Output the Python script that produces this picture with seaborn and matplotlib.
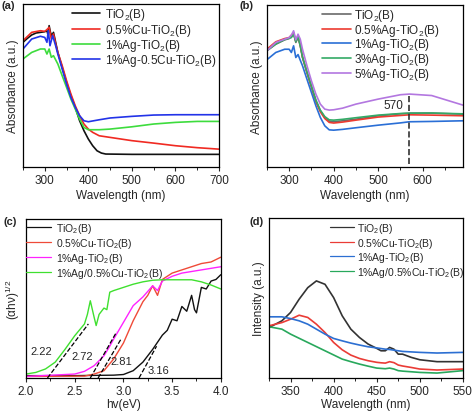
import pandas as pd
import matplotlib.pyplot as plt
import seaborn as sns

sns.set_style("ticks")
plt.rcParams['font.family'] = ['Liberation Sans', 'DejaVu Sans']
plt.rcParams['mathtext.fontset'] = 'custom'
plt.rcParams['mathtext.rm'] = 'Liberation Sans'
plt.rcParams['mathtext.it'] = 'Liberation Sans:italic'
plt.rcParams['mathtext.default'] = 'regular'

# ---- (a) UV-vis, Cu / Ag co-doped ----
wl_a_k = [250, 260, 270, 280, 290, 300, 305, 308, 310, 313, 316, 320, 325, 330, 340, 350, 360, 370, 380, 390, 400, 410, 420, 430, 440, 500, 600, 700]
abs_a_k = [76.5, 78.9, 81, 82.2, 82.6, 83, 83.6, 80.6, 86.7, 82.6, 80.6, 82.6, 76.5, 70.3, 61.1, 51.9, 43.8, 36.6, 28.4, 22.3, 17.2, 13.1, 10, 8.6, 8, 7.8, 7.8, 7.8]
wl_a_r = [250, 270, 290, 300, 305, 310, 315, 320, 325, 330, 340, 350, 360, 370, 380, 390, 400, 410, 425, 450, 500, 550, 600, 650, 700]
abs_a_r = [77.5, 82.6, 83.6, 83.2, 84.3, 85.7, 78.5, 81.6, 75.5, 70.3, 62.2, 53, 44.8, 37.6, 31.5, 26.4, 23.3, 21.3, 19.2, 18.2, 16.2, 14.7, 13.1, 11.9, 11]
wl_a_g = [250, 270, 290, 300, 305, 310, 315, 320, 330, 340, 350, 360, 370, 380, 390, 400, 425, 450, 500, 550, 600, 650, 700]
abs_a_g = [66.3, 70.3, 72.4, 72.4, 69.3, 72.4, 67.3, 68.3, 63.2, 56, 48.9, 41.7, 35.6, 29.4, 24.3, 22.9, 22.9, 23.3, 24.7, 26.4, 27.4, 28, 28]
wl_a_b = [250, 270, 290, 300, 305, 308, 312, 318, 325, 330, 340, 350, 360, 370, 380, 390, 400, 425, 450, 500, 550, 600, 700]
abs_a_b = [72.4, 78.5, 80.2, 79.5, 76.5, 83.6, 74.4, 80.6, 74.4, 69.3, 60.1, 50.9, 42.7, 36.6, 31.5, 28.4, 27.8, 29, 30.1, 31.1, 31.9, 32.1, 32.1]
labels_a = ['TiO$_2$(B)', '0.5%Cu-TiO$_2$(B)', '1%Ag-TiO$_2$(B)', '1%Ag-0.5Cu-TiO$_2$(B)']
colors_a = ['#111111', '#f02a22', '#3ddc3d', '#2233e8']

# ---- (b) UV-vis, Ag loading ----
wl_b_1 = [250, 270, 290, 300, 305, 310, 315, 320, 325, 330, 340, 350, 360, 370, 380, 390, 400, 420, 450, 500, 550, 570, 620, 690]
abs_b_k = [71.8, 75.9, 78.6, 79.4, 80.7, 83.1, 77, 80, 74.9, 67.7, 58.4, 49.8, 40.9, 34.8, 30.7, 28.4, 28, 28.6, 29.6, 31.7, 32.9, 33.3, 33.3, 32.7]
abs_b_r = [72.8, 77.4, 79.4, 80, 81.5, 82.5, 78, 81, 75.5, 68, 58.5, 49.5, 40.5, 34.2, 30, 27.6, 27.2, 27.8, 29, 30.9, 31.9, 32.3, 32.1, 31.7]
abs_b_b = [66.3, 70.8, 72.8, 72.8, 70.8, 74.9, 67.7, 69.5, 66, 62.6, 54.3, 46.1, 37.9, 30.7, 25.5, 23, 22.8, 23.3, 24.3, 25.9, 27.3, 28, 28.2, 28.6]
abs_b_g = [72, 76, 78.8, 79.6, 80, 82, 77.5, 80.5, 75, 68, 58.8, 50.2, 41.5, 35.2, 31.2, 29.2, 29, 29.5, 30.5, 32.1, 33.1, 33.3, 33.4, 32.9]
abs_b_p = [71.8, 77, 79, 80, 81.5, 84.2, 78.6, 82.1, 79, 72.8, 62.6, 53.3, 45.1, 38.9, 35.8, 35.2, 35.4, 36.4, 38.9, 42, 44.7, 45.1, 44.2, 38.3]
labels_b = ['TiO$_2$(B)', '0.5%Ag-TiO$_2$(B)', '1%Ag-TiO$_2$(B)', '3%Ag-TiO$_2$(B)', '5%Ag-TiO$_2$(B)']
colors_b = ['#6a6a6a', '#ec3b30', '#2a6fd6', '#33aa66', '#b377e0']
peak_b = 570

# ---- (c) Tauc plot ----
ev_c_k = [2.0, 2.5, 2.9, 3.0, 3.1, 3.2, 3.3, 3.4, 3.45, 3.5, 3.55, 3.6, 3.65, 3.7, 3.73, 3.75, 3.8, 3.85, 3.9, 3.95, 4.0]
tauc_k = [1.5, 1.5, 1.8, 2.2, 4.6, 10, 18, 27, 30, 37, 36, 45, 42, 52, 43, 41, 57, 56, 61, 62, 65]
ev_c_r = [2.0, 2.6, 2.7, 2.8, 2.9, 3.0, 3.1, 3.2, 3.25, 3.3, 3.35, 3.4, 3.5, 3.6, 3.7, 3.8, 3.9, 4.0]
tauc_r = [1, 1.2, 2.5, 4.6, 12, 22, 36, 48, 52, 58, 52, 62, 66, 68, 70, 72, 73, 76]
ev_c_m = [2.0, 2.5, 2.6, 2.7, 2.8, 2.85, 2.9, 3.0, 3.1, 3.2, 3.3, 3.35, 3.4, 3.5, 3.6, 3.7, 3.8, 3.9, 4.0]
tauc_m = [1, 2.5, 4.2, 7.8, 14, 19, 24.5, 35, 45.5, 51, 58, 55, 61, 64, 66, 67, 68, 69, 70]
ev_c_g = [2.0, 2.1, 2.2, 2.3, 2.4, 2.5, 2.6, 2.63, 2.66, 2.7, 2.72, 2.75, 2.8, 2.83, 2.86, 2.9, 3.0, 3.1, 3.2, 3.3, 3.4, 3.5, 3.6, 3.7, 3.8, 3.9, 4.0]
tauc_g = [2.5, 3.5, 5.7, 10, 18, 26.6, 34, 40, 48.6, 38, 33, 40, 44, 43, 54, 55, 57, 59, 60.5, 61.5, 61.8, 61.8, 61.8, 61.8, 60.5, 58.5, 56]
labels_c = ['TiO$_2$(B)', '0.5%Cu-TiO$_2$(B)', '1%Ag-TiO$_2$(B)', '1%Ag/0.5%Cu-TiO$_2$(B)']
colors_c = ['#111111', '#ef4a38', '#ff22ff', '#3fe02f']
# tangent lines (start at x intercept, end point) and band gap labels
tan_x0 = [2.22, 2.66, 2.74, 3.16]
tan_x1 = [2.64, 2.93, 2.98, 3.34]
tan_y1 = [34, 29, 25, 20]
gap_text = ['2.22', '2.72', '2.81', '3.16']
gap_tx = [2.16, 2.58, 2.98, 3.36]
gap_ty = [17, 14, 11, 5]

# ---- (d) PL spectra ----
wl_d = [325, 340, 350, 360, 370, 380, 390, 400, 410, 420, 430, 440, 450, 455, 460, 465, 470, 475, 480, 490, 500, 520, 550]
pl_k = [31.5, 35.7, 40.9, 49.2, 56.4, 60.6, 58.5, 50.2, 38.8, 30.5, 25.3, 21.2, 18.5, 17, 17, 19.1, 18, 14.9, 14.9, 12.9, 11.4, 10.2, 10.2]
pl_r = [32.6, 34.6, 36.7, 39.2, 37.8, 33.6, 28.4, 22.2, 17.6, 14.3, 12.2, 10.8, 9.8, 9.5, 9.3, 10.2, 9.6, 8.1, 7.5, 6.6, 5.6, 5.0, 5.6]
pl_b = [38.2, 38.2, 37.1, 35.7, 33.6, 30.5, 27.4, 24.7, 23.2, 21.8, 20.6, 19.5, 18.8, 18.4, 18, 17.8, 17.4, 17, 16.6, 16.3, 16, 15.6, 16]
pl_g = [32, 30.5, 27.4, 24.8, 22.2, 19.6, 17, 14.4, 11.8, 10.2, 8.7, 7.4, 6.2, 6, 5.8, 6.2, 5.6, 4.6, 4.3, 3.9, 3.5, 3.1, 4.6]
labels_d = ['TiO$_2$(B)', '0.5%Cu-TiO$_2$(B)', '1%Ag-TiO$_2$(B)', '1%Ag/0.5%Cu-TiO$_2$(B)']
colors_d = ['#333333', '#ea3c36', '#2c6fd2', '#28a85c']


def long_df(xs, ys, labels):
    parts = []
    for x, y, lab in zip(xs, ys, labels):
        parts.append(pd.DataFrame({'x': x, 'y': y, 'sample': lab}))
    return pd.concat(parts, ignore_index=True)


def draw(ax, df, labels, colors, lw=1.2):
    sns.lineplot(data=df, x='x', y='y', hue='sample', hue_order=labels,
                 palette=colors, sort=False, estimator=None, lw=lw, ax=ax)


fig = plt.figure(figsize=(4.74, 4.14), dpi=100)
ax_a = fig.add_axes([0.0485, 0.594, 0.4135, 0.394])
ax_b = fig.add_axes([0.563, 0.594, 0.4135, 0.391])
ax_c = fig.add_axes([0.0549, 0.0845, 0.411, 0.384])
ax_d = fig.add_axes([0.5675, 0.0845, 0.409, 0.387])

draw(ax_a, long_df([wl_a_k, wl_a_r, wl_a_g, wl_a_b], [abs_a_k, abs_a_r, abs_a_g, abs_a_b], labels_a), labels_a, colors_a)
draw(ax_b, long_df([wl_b_1] * 5, [abs_b_k, abs_b_r, abs_b_b, abs_b_g, abs_b_p], labels_b), labels_b, colors_b)
draw(ax_c, long_df([ev_c_k, ev_c_r, ev_c_m, ev_c_g], [tauc_k, tauc_r, tauc_m, tauc_g], labels_c), labels_c, colors_c, lw=1.0)
draw(ax_d, long_df([wl_d] * 4, [pl_k, pl_r, pl_b, pl_g], labels_d), labels_d, colors_d)

ax_b.plot([peak_b, peak_b], [2, 45.1], ls='--', color='#333333', lw=1.2)
ax_b.text(533, 38.5, str(peak_b), ha='center', va='center', fontsize=8.5)

for x0, x1, y1 in zip(tan_x0, tan_x1, tan_y1):
    ax_c.plot([x0, x1], [0, y1], ls='--', color='black', lw=0.9)
for t, tx, ty in zip(gap_text, gap_tx, gap_ty):
    ax_c.text(tx, ty, t, ha='center', va='center', fontsize=8)

# axes cosmetics
ax_a.set_xlim(250, 700)
ax_a.set_xticks([300, 400, 500, 600, 700])
ax_a.set_xticks(range(250, 701, 50), minor=True)
ax_a.set_ylim(0, 100)
ax_b.set_xlim(250, 690)
ax_b.set_xticks([300, 400, 500, 600])
ax_b.set_xticks(range(250, 691, 50), minor=True)
ax_b.set_ylim(0, 100)
ax_c.set_xlim(2.0, 4.0)
ax_c.set_xticks([2.0, 2.5, 3.0, 3.5, 4.0])
ax_c.set_xticks([2.25, 2.75, 3.25, 3.75], minor=True)
ax_c.set_ylim(0, 100)
ax_d.set_xlim(326, 550)
ax_d.set_xticks([350, 400, 450, 500, 550])
ax_d.set_xticks(range(325, 551, 25), minor=True)
ax_d.set_ylim(0, 100)

for ax in [ax_a, ax_b]:
    ax.set_xlabel('Wavelength (nm)', fontsize=8.5, labelpad=2)
    ax.set_ylabel('Absorbance (a.u.)', fontsize=8.5, labelpad=3)
ax_c.set_xlabel('hv(eV)', fontsize=8.5, labelpad=1)
ax_c.set_ylabel(r'$(\alpha h\nu)^{1/2}$', fontsize=8.5, labelpad=3)
ax_d.set_xlabel('Wavelength (nm)', fontsize=8.5, labelpad=1)
ax_d.set_ylabel('Intensity (a.u.)', fontsize=8.5, labelpad=3)

for ax in [ax_a, ax_b, ax_c, ax_d]:
    ax.set_yticks([])
    ax.tick_params(axis='x', labelsize=8.5, length=3, width=0.8, pad=2)
    ax.tick_params(axis='x', which='minor', length=2, width=0.7)
    for s in ax.spines.values():
        s.set_visible(True)
        s.set_linewidth(0.9)
        s.set_color('black')

ax_a.legend(loc='upper left', bbox_to_anchor=(0.25, 0.985), frameon=False, fontsize=8.5,
            handlelength=2.4, handletextpad=0.42, labelspacing=-0.06,
            borderpad=0, borderaxespad=0)
ax_b.legend(loc='upper left', bbox_to_anchor=(0.28, 0.99), frameon=False, fontsize=8.5,
            handlelength=2.5, handletextpad=0.2, labelspacing=-0.1,
            borderpad=0, borderaxespad=0)
ax_c.legend(loc='upper left', bbox_to_anchor=(0.0, 0.99), frameon=False, fontsize=7.5,
            handlelength=2.4, handletextpad=0.5, labelspacing=0.1,
            borderpad=0, borderaxespad=0)
ax_d.legend(loc='upper left', bbox_to_anchor=(0.315, 0.98), frameon=False, fontsize=7.5,
            handlelength=2.3, handletextpad=0.3, labelspacing=0.05,
            borderpad=0, borderaxespad=0)
for leg in [ax_c.get_legend(), ax_d.get_legend()]:
    for ln in leg.get_lines():
        ln.set_linewidth(0.9)

fig.text(0.004, 0.985, '(a)', fontsize=8, fontweight='bold', va='center')
fig.text(0.506, 0.985, '(b)', fontsize=8, fontweight='bold', va='center')
fig.text(0.008, 0.463, '(c)', fontsize=8, fontweight='bold', va='center')
fig.text(0.527, 0.463, '(d)', fontsize=8, fontweight='bold', va='center')

fig.savefig('out.png', dpi=100)
